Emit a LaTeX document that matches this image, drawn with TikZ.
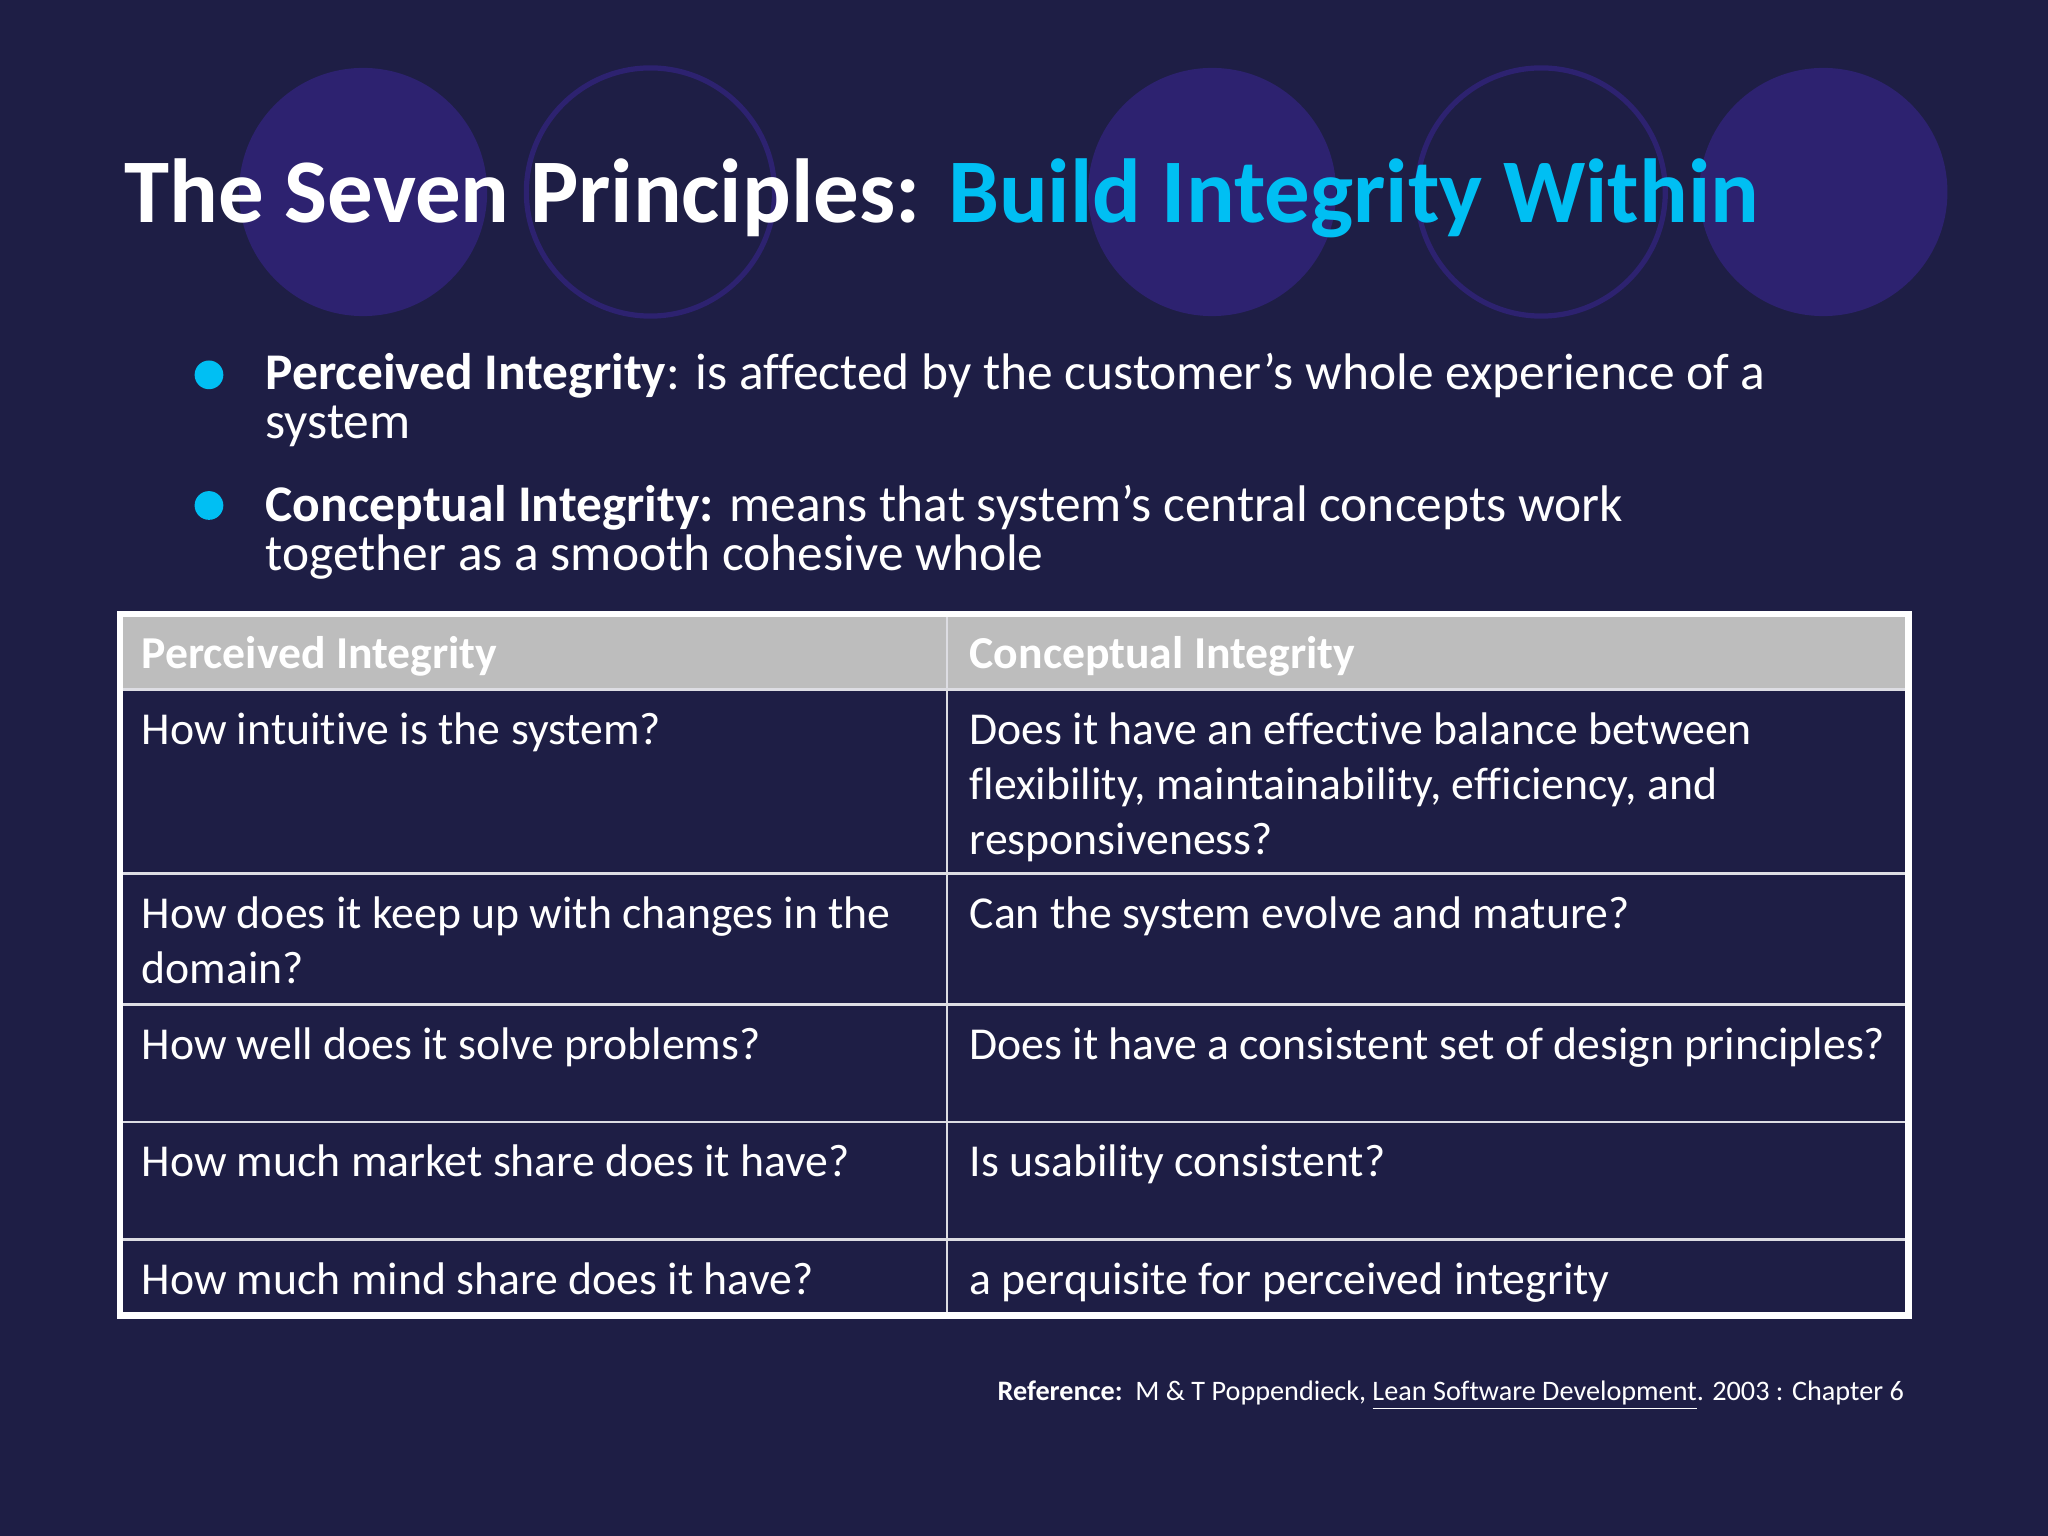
\documentclass[tikz,border=0pt]{standalone}
\usepackage{fontspec}
\setmainfont[Ligatures=NoCommon]{Carlito}
\definecolor{bg}{HTML}{1E1E45}
\definecolor{circ}{HTML}{2D2270}
\definecolor{cy}{HTML}{00BFF3}
\definecolor{hdr}{HTML}{BDBDBD}
\newcommand{\myul}[1]{\underline{#1}}
\begin{document}
\begin{tikzpicture}[x=0.5pt,y=-0.5pt,
  txt/.style={anchor=base west,text=white,inner sep=0pt,font=\fontsize{17.5}{21}\selectfont},
  bul/.style={anchor=base west,text=white,inner sep=0pt,font=\fontsize{19.7}{19}\selectfont},
  dot/.style={circle,fill=cy,minimum size=11pt,inner sep=0pt}]
\fill[bg] (0,0) rectangle (1568,1176);
\useasboundingbox (0,0) rectangle (1568,1176);
\foreach \x in {278,928,1396} \fill[circ] (\x,147) circle[radius=95];
\foreach \x in {498,1180} \draw[circ,line width=2pt] (\x,147) circle[radius=95];
\node[anchor=base west,inner sep=0pt,text=white,font=\bfseries\fontsize{34.8}{40}\selectfont] (title) at (95,170) {The Seven Principles: \textcolor{cy}{Build Integrity Within}};
\node[dot] (d1) at (160,287) {};
\node[dot] (d2) at (160,387) {};
\node[bul] (b1) at (203,298) {\textbf{Perceived Integrity}: is affected by the customer’s whole experience of a};
\node[bul] (b1b) at (203,336) {system};
\node[bul] (b2) at (203,399) {\textbf{Conceptual Integrity:} means that system’s central concepts work};
\node[bul] (b2b) at (203,437) {together as a smooth cohesive whole};
% table
\fill[hdr] (92,472) rectangle (1461,528);
\foreach \y in {528,669,769,859,949} \draw[white!85!bg,line width=1pt] (92,\y) -- (1461,\y);
\draw[white!85!bg,line width=1pt] (725,472) -- (725,1006);
\draw[white,line width=2.5pt] (92,470) rectangle (1461,1007);
\node[txt,font=\bfseries\fontsize{17.5}{21}\selectfont] (h1) at (108,512) {Perceived Integrity};
\node[txt,font=\bfseries\fontsize{17.5}{21}\selectfont] (h2) at (742,512) {Conceptual Integrity};
\node[txt] (a1) at (108,570) {How intuitive is the system?};
\node[txt] (c1) at (742,570) {Does it have an effective balance between};
\node[txt] (c1b) at (742,612) {flexibility, maintainability, efficiency, and};
\node[txt] (c1c) at (742,654) {responsiveness?};
\node[txt] (a2) at (108,711) {How does it keep up with changes in the};
\node[txt] (a2b) at (108,753) {domain?};
\node[txt] (c2) at (742,711) {Can the system evolve and mature?};
\node[txt] (a3) at (108,811) {How well does it solve problems?};
\node[txt] (c3) at (742,811) {Does it have a consistent set of design principles?};
\node[txt] (a4) at (108,901) {How much market share does it have?};
\node[txt] (c4) at (742,901) {Is usability consistent?};
\node[txt] (a5) at (108,991) {How much mind share does it have?};
\node[txt] (c5) at (742,991) {a perquisite for perceived integrity};
\node[anchor=base east,inner sep=0pt,text=white,font=\fontsize{10.8}{12}\selectfont] (ref) at (1458,1072) {\textbf{Reference:}\ \ M \& T Poppendieck, \myul{Lean Software Development}. 2003 : Chapter 6};
\end{tikzpicture}
\end{document}
